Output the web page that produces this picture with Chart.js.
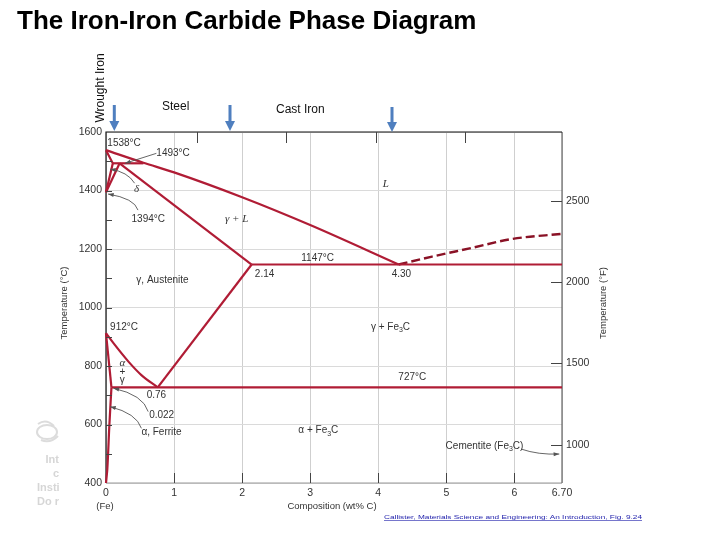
<!DOCTYPE html>
<html>
<head>
<meta charset="utf-8">
<script src="https://cdn.jsdelivr.net/npm/chart.js@4.4.0/dist/chart.umd.min.js"></script>
<style>
  html,body{margin:0;padding:0;background:#fff;overflow:hidden}
  #wrap{position:relative;width:720px;height:540px}
  #c{position:absolute;left:0;top:0}
  #over{position:absolute;left:0;top:0;pointer-events:none}
</style>
</head>
<body>
<div id="wrap">
  <canvas id="c" width="720" height="540"></canvas>
  <svg id="over" width="720" height="540" font-family="'Liberation Sans', Arial, sans-serif">
    <text x="17" y="29" font-size="26" font-weight="bold" fill="#000">The Iron-Iron Carbide Phase Diagram</text>
    <text transform="translate(104,88) rotate(-90)" text-anchor="middle" font-size="12" fill="#111">Wrought Iron</text>
    <text x="162" y="110" font-size="12" fill="#111">Steel</text>
    <text x="276" y="113" font-size="12" fill="#111">Cast Iron</text>
    <g fill="#4f7fbf">
      <rect x="112.8" y="105" width="3" height="17"/><polygon points="109.3,121 119.3,121 114.3,131"/>
      <rect x="228.5" y="105" width="3" height="17"/><polygon points="225,121 235,121 230,131"/>
      <rect x="390.5" y="107" width="3" height="16"/><polygon points="387,122 397,122 392,132"/>
    </g>
    <!-- faint logo and text behind the diagram -->
    <g fill="none" stroke="#dcdcdc" stroke-width="2">
      <ellipse cx="47" cy="432" rx="10" ry="7"/>
      <path d="M38 424 q8 -6 16 2 M41 440 q9 4 17 -4"/>
    </g>
    <g font-size="11" font-weight="bold" fill="#d6d6d6">
      <text x="59" y="463" text-anchor="end">Int</text>
      <text x="59" y="477" text-anchor="end">c</text>
      <text x="37" y="491">Insti</text>
      <text x="37" y="505">Do r</text>
    </g>
    <g font-size="9.5" fill="#333">
      <text transform="translate(67,303) rotate(-90)" text-anchor="middle">Temperature (°C)</text>
      <text transform="translate(606,303) rotate(-90)" text-anchor="middle">Temperature (°F)</text>
      <text x="332" y="509" text-anchor="middle">Composition (wt% C)</text>
      <text x="105" y="509" text-anchor="middle">(Fe)</text>
    </g>
    <text x="384" y="519" font-size="6" fill="#1c1caa" text-decoration="underline" textLength="258" lengthAdjust="spacingAndGlyphs">Callister, Materials Science and Engineering: An Introduction, Fig. 9.24</text>
  </svg>
</div>
<script>
// axis ticks
const X_TICKS = [0, 1, 2, 3, 4, 5, 6, 6.70];
const Y_TICKS = [400, 600, 800, 1000, 1200, 1400, 1600];
const F_TICKS = [1000, 1500, 2000, 2500];
const TOP_TICKS = [1.33, 2.65, 3.96, 5.28];

// phase boundaries, [wt% C, °C]
const deltaBound = [[0, 1538], [0.10, 1493], [0, 1394]];
const deltaGamma = [[0, 1394], [0.20, 1493]];
const peritectic = [[0.10, 1493], [0.55, 1493]];
const liquidus = [[0, 1538], [0.55, 1495], [1.0, 1462], [2.0, 1377], [3.0, 1282], [4.30, 1147]];
const solidus = [[0.20, 1493], [2.14, 1147]];
const eutectic = [[2.14, 1147], [6.70, 1147]];
const acm = [[0.76, 727], [2.14, 1147]];
const a3 = [[0, 912], [0.13, 872], [0.33, 815], [0.52, 769], [0.76, 727]];
const alphaTop = [[0, 912], [0.08, 727]];
const alphaSolvus = [[0.08, 727], [0.05, 600], [0.02, 450], [0, 400]];
const eutectoid = [[0.08, 727], [6.70, 727]];
const cementiteLiq = [[4.30, 1147], [4.79, 1174], [5.38, 1204], [5.96, 1234], [6.70, 1252]];

// text in the plot (odd parts are subscripts)
const LABELS = [
  {t:['1538°C'], x:0.02, y:1560, a:'left'},
  {t:['1493°C'], x:0.74, y:1527, a:'left'},
  {t:['δ'], x:0.45, y:1404, a:'center', it:true},
  {t:['1394°C'], x:0.375, y:1303, a:'left'},
  {t:['γ + L'], x:1.92, y:1301, a:'center', it:true},
  {t:['L'], x:4.11, y:1421, a:'center', it:true},
  {t:['1147°C'], x:3.11, y:1170, a:'center'},
  {t:['2.14'], x:2.33, y:1113, a:'center'},
  {t:['4.30'], x:4.34, y:1113, a:'center'},
  {t:['γ, Austenite'], x:0.83, y:1094, a:'center'},
  {t:['912°C'], x:0.06, y:934, a:'left'},
  {t:['α'], x:0.24, y:809, a:'center', it:true},
  {t:['+'], x:0.24, y:780, a:'center'},
  {t:['γ'], x:0.24, y:752, a:'center'},
  {t:['0.76'], x:0.74, y:701, a:'center'},
  {t:['0.022'], x:0.634, y:632, a:'left'},
  {t:['α, Ferrite'], x:0.52, y:575, a:'left'},
  {t:['γ + Fe', '3', 'C'], x:4.18, y:932, a:'center'},
  {t:['727°C'], x:4.5, y:763, a:'center'},
  {t:['α + Fe', '3', 'C'], x:3.12, y:579, a:'center'},
  {t:['Cementite (Fe', '3', 'C)'], x:4.99, y:526, a:'left'},
];

// leader arrows: from, control, to
const ARROWS = [
  {f:[0.74, 1527], c:[0.51, 1510], e:[0.28, 1493]},
  {f:[0.42, 1425], c:[0.32, 1464], e:[0.06, 1473]},
  {f:[0.47, 1333], c:[0.42, 1373], e:[0.03, 1388]},
  {f:[0.62, 644], c:[0.55, 701], e:[0.11, 724]},
  {f:[0.52, 587], c:[0.45, 638], e:[0.06, 661]},
  {f:[6.10, 516], c:[6.35, 496], e:[6.66, 499]},
];

const RED = '#b01c35';
const FONT = "'Liberation Sans', Arial, sans-serif";
const cToF = c => c * 9 / 5 + 32;
const F_SHIFT = 12; // the printed °F scale sits a little low in the original

function line(pts, extra){
  return Object.assign({
    data: pts.map(p => ({x: p[0], y: p[1]})),
    showLine: true, pointRadius: 0, borderColor: RED, borderWidth: 2.2,
    tension: 0, clip: false, fill: false
  }, extra || {});
}

const decor = {
  id: 'decor',
  beforeDatasetsDraw(chart){
    const {ctx, chartArea: a} = chart;
    ctx.save();
    ctx.lineWidth = 1.2;
    ctx.strokeStyle = '#999';
    ctx.beginPath(); ctx.moveTo(a.left, a.bottom); ctx.lineTo(a.right, a.bottom); ctx.stroke();
    ctx.strokeStyle = '#666';
    ctx.beginPath(); ctx.moveTo(a.right, a.top); ctx.lineTo(a.right, a.bottom); ctx.stroke();
    ctx.strokeStyle = '#111';
    ctx.beginPath(); ctx.moveTo(a.left, a.bottom); ctx.lineTo(a.left, a.top); ctx.lineTo(a.right, a.top); ctx.stroke();
    ctx.restore();
  },
  afterDatasetsDraw(chart){
    const {ctx, chartArea: a, scales} = chart;
    const sx = scales.x, sy = scales.y, sf = scales.yF;
    ctx.save();
    // inward tick marks
    ctx.strokeStyle = '#444'; ctx.lineWidth = 1;
    ctx.beginPath();
    for(let t = 500; t < 1600; t += 100){ const y = Math.round(sy.getPixelForValue(t)) + 0.5; ctx.moveTo(a.left, y); ctx.lineTo(a.left + 6, y); }
    X_TICKS.slice(1, -1).forEach(v => { const x = Math.round(sx.getPixelForValue(v)) + 0.5; ctx.moveTo(x, a.bottom); ctx.lineTo(x, a.bottom - 10); });
    TOP_TICKS.forEach(v => { const x = Math.round(sx.getPixelForValue(v)) + 0.5; ctx.moveTo(x, a.top); ctx.lineTo(x, a.top + 11); });
    F_TICKS.forEach(v => { const y = Math.round(sf.getPixelForValue(v)) + 0.5; ctx.moveTo(a.right, y); ctx.lineTo(a.right - 11, y); });
    ctx.stroke();

    // leader arrows
    ctx.strokeStyle = '#555'; ctx.fillStyle = '#555'; ctx.lineWidth = 0.9;
    ARROWS.forEach(ar => {
      const f = [sx.getPixelForValue(ar.f[0]), sy.getPixelForValue(ar.f[1])];
      const c = [sx.getPixelForValue(ar.c[0]), sy.getPixelForValue(ar.c[1])];
      const e = [sx.getPixelForValue(ar.e[0]), sy.getPixelForValue(ar.e[1])];
      ctx.beginPath(); ctx.moveTo(f[0], f[1]); ctx.quadraticCurveTo(c[0], c[1], e[0], e[1]); ctx.stroke();
      const ang = Math.atan2(e[1] - c[1], e[0] - c[0]);
      ctx.beginPath();
      ctx.moveTo(e[0], e[1]);
      ctx.lineTo(e[0] - 6 * Math.cos(ang - 0.35), e[1] - 6 * Math.sin(ang - 0.35));
      ctx.lineTo(e[0] - 6 * Math.cos(ang + 0.35), e[1] - 6 * Math.sin(ang + 0.35));
      ctx.closePath(); ctx.fill();
    });

    // labels
    ctx.fillStyle = '#333'; ctx.textBaseline = 'middle';
    LABELS.forEach(l => {
      const fam = l.it ? "italic 11px 'Liberation Serif', serif" : '10px ' + FONT;
      const sub = '7px ' + FONT;
      let w = 0;
      l.t.forEach((s, i) => { ctx.font = i % 2 ? sub : fam; w += ctx.measureText(s).width; });
      let x = sx.getPixelForValue(l.x);
      const y = sy.getPixelForValue(l.y);
      if(l.a === 'center') x -= w / 2;
      ctx.textAlign = 'left';
      l.t.forEach((s, i) => {
        ctx.font = i % 2 ? sub : fam;
        ctx.fillText(s, x, i % 2 ? y + 3 : y);
        x += ctx.measureText(s).width;
      });
    });
    ctx.restore();
  }
};

const tickFont = {family: FONT, size: 10.5};

new Chart(document.getElementById('c'), {
  type: 'scatter',
  data: {
    datasets: [
      line(deltaBound),
      line(deltaGamma),
      line(peritectic),
      line(liquidus, {cubicInterpolationMode: 'monotone'}),
      line(solidus),
      line(eutectic),
      line(acm),
      line(a3, {cubicInterpolationMode: 'monotone'}),
      line(alphaTop),
      line(alphaSolvus, {tension: 0.3}),
      line(eutectoid),
      line(cementiteLiq, {cubicInterpolationMode: 'monotone', borderDash: [9, 4], borderColor: '#8a1226', borderWidth: 2.4}),
    ]
  },
  options: {
    responsive: false,
    animation: false,
    events: [],
    layout: {padding: 0},
    plugins: {legend: {display: false}, tooltip: {enabled: false}},
    scales: {
      x: {
        type: 'linear', position: 'bottom', min: 0, max: 6.7,
        afterBuildTicks: s => { s.ticks = X_TICKS.map(v => ({value: v})); },
        afterFit: s => { s.height = 57; },
        ticks: {autoSkip: false, maxRotation: 0, padding: 4, color: '#333', font: tickFont,
          callback: v => v === 6.7 ? '6.70' : String(v)},
        grid: {color: '#cfcfcf', drawTicks: false},
        border: {display: false}
      },
      xTop: {
        type: 'linear', position: 'top', min: 0, max: 6.7,
        afterFit: s => { s.height = 132; },
        ticks: {display: false},
        grid: {drawOnChartArea: false, drawTicks: false},
        border: {display: false}
      },
      y: {
        type: 'linear', position: 'left', min: 400, max: 1600,
        afterBuildTicks: s => { s.ticks = Y_TICKS.map(v => ({value: v})); },
        afterFit: s => { s.width = 106; },
        ticks: {padding: 4, color: '#333', font: tickFont, callback: v => String(v)},
        grid: {color: '#dadada', drawTicks: false},
        border: {display: false}
      },
      yF: {
        type: 'linear', position: 'right', min: cToF(400) + F_SHIFT, max: cToF(1600) + F_SHIFT,
        afterBuildTicks: s => { s.ticks = F_TICKS.map(v => ({value: v})); },
        afterFit: s => { s.width = 158; },
        ticks: {padding: 4, color: '#333', font: tickFont, callback: v => String(v)},
        grid: {drawOnChartArea: false, drawTicks: false},
        border: {display: false}
      }
    }
  },
  plugins: [decor]
});
</script>
</body>
</html>
